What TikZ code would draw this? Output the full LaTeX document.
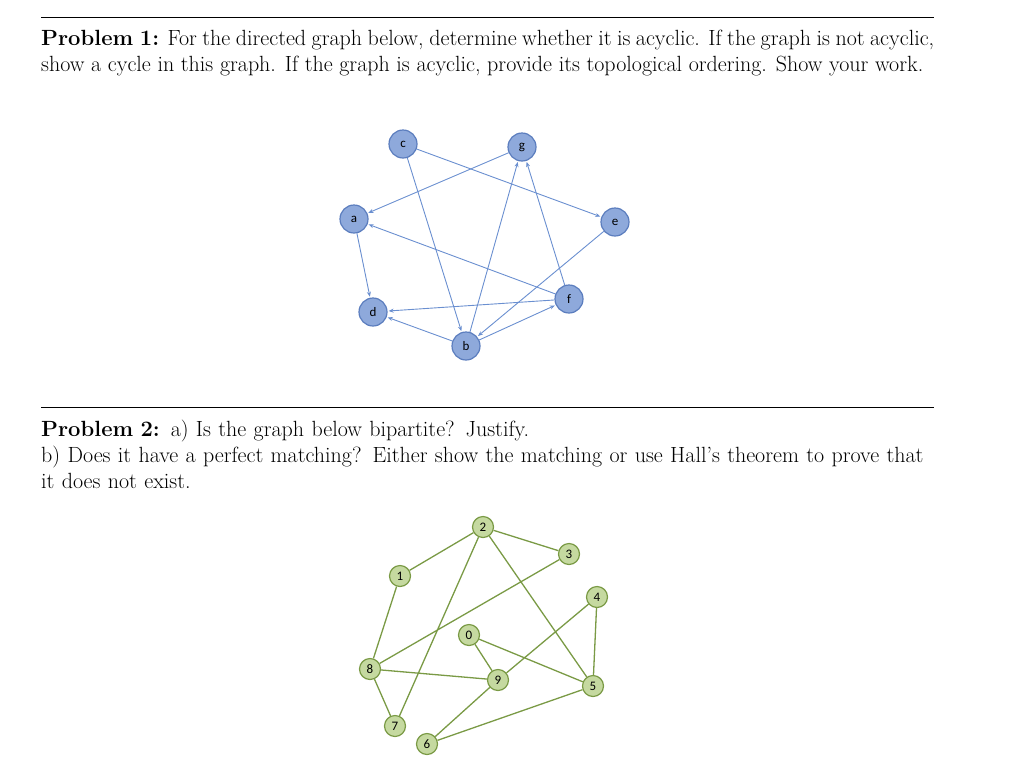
\documentclass[tikz,border=0pt]{standalone}
\usepackage{fontspec}
\setsansfont{Carlito}
\usetikzlibrary{arrows.meta}
\begin{document}
\begin{tikzpicture}[x=1pt,y=-1pt,
 bn/.style={circle,draw=bbord,fill=bfill,line width=1.2pt,minimum size=28pt,inner sep=0pt,font=\sffamily\fontsize{13}{13}\selectfont},
 gn/.style={circle,draw=gbord,fill=gfill,line width=1.2pt,minimum size=21pt,inner sep=0pt,font=\sffamily\fontsize{13}{13}\selectfont},
 be/.style={draw=bedge,line width=0.9pt,-{Stealth[length=5pt,width=4pt]},shorten >=1pt},
 ge/.style={draw=gbord,line width=1.3pt},
 txt/.style={anchor=north west,inner sep=0pt,text width=893pt,align=justify,font=\fontsize{22}{26}\selectfont}]
\definecolor{bfill}{HTML}{8EA9DB}\definecolor{bbord}{HTML}{5B7DBE}\definecolor{bedge}{HTML}{6A8FD0}
\definecolor{gfill}{HTML}{C5D9A0}\definecolor{gbord}{HTML}{7A9A45}
\useasboundingbox (0,0) rectangle (1024,777);
\draw[line width=0.6pt] (41,17) -- (934,17);
\node[txt] (p1) at (41,30) {\textbf{Problem 1:} For the directed graph below, determine whether it is acyclic. If the graph is not acyclic, show a cycle in this graph. If the graph is acyclic, provide its topological ordering. Show your work.};
\draw[line width=0.6pt] (41,407) -- (934,407);
\node[txt,align=left] (p2) at (41,420) {\textbf{Problem 2:} a) Is the graph below bipartite? Justify.\\ b) Does it have a perfect matching? Either show the matching or use Hall's theorem to prove that it does not exist.};
\node[bn] (c) at (403,144) {c};
\node[bn] (g) at (522,147) {g};
\node[bn] (a) at (354,219) {a};
\node[bn] (e) at (615,222) {e};
\node[bn] (f) at (569,299) {f};
\node[bn] (d) at (373,312) {d};
\node[bn] (b) at (466,346) {b};
\draw[be] (c) -- (e);
\draw[be] (g) -- (a);
\draw[be] (f) -- (a);
\draw[be] (a) -- (d);
\draw[be] (c) -- (b);
\draw[be] (b) -- (g);
\draw[be] (f) -- (g);
\draw[be] (e) -- (b);
\draw[be] (f) -- (d);
\draw[be] (b) -- (d);
\draw[be] (b) -- (f);
\node[gn] (n2) at (483,527) {2};
\node[gn] (n3) at (569,554) {3};
\node[gn] (n1) at (400,576) {1};
\node[gn] (n4) at (597,597) {4};
\node[gn] (n0) at (469,635) {0};
\node[gn] (n8) at (370,669) {8};
\node[gn] (n9) at (498,680) {9};
\node[gn] (n5) at (593,686) {5};
\node[gn] (n7) at (395,726) {7};
\node[gn] (n6) at (427,744) {6};
\draw[ge] (n1)--(n2) (n2)--(n3) (n1)--(n8) (n8)--(n3) (n2)--(n7) (n2)--(n5)
 (n0)--(n9) (n0)--(n5) (n9)--(n4) (n4)--(n5) (n8)--(n9) (n8)--(n7) (n6)--(n9) (n6)--(n5);
\end{tikzpicture}
\end{document}
